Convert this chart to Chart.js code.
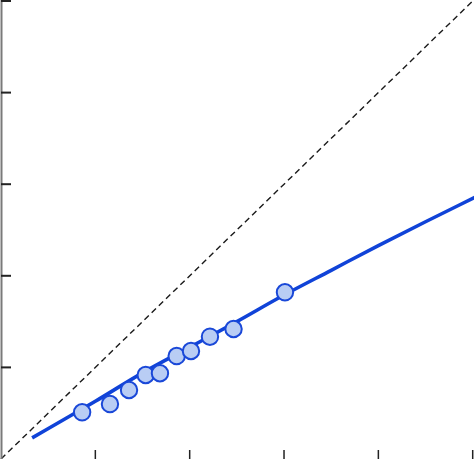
<!DOCTYPE html>
<html>
<head>
<meta charset="utf-8">
<script src="https://cdn.jsdelivr.net/npm/chart.js@4/dist/chart.umd.min.js"></script>
<style>
  html, body { margin: 0; padding: 0; background: #fff; }
  #wrap { width: 474px; height: 459px; }
</style>
</head>
<body>
<div id="wrap"><canvas id="fitChart"></canvas></div>
<script>
// measured points
const obsX = [0.86, 1.155, 1.357, 1.534, 1.685, 1.862, 2.014, 2.215, 2.465, 3.01];
const obsY = [0.51, 0.60, 0.753, 0.917, 0.936, 1.124, 1.179, 1.335, 1.419, 1.82];

// fitted curve
const fitX = [0.33, 0.75, 1.0, 1.5, 2.0, 2.5, 3.0, 3.5, 4.0, 4.5, 5.03];
const fitY = [0.23, 0.48, 0.63, 0.94, 1.22, 1.50, 1.79, 2.06, 2.33, 2.59, 2.86];

// 1:1 reference line
const refX = [0, 5.03];
const refY = [0, 5.03];

// tick positions (no labels in the figure)
const xTicks = [1, 2, 3, 4, 5];
const yTicks = [1, 2, 3, 4, 5];

const toPts = (xs, ys) => xs.map((x, i) => ({ x: x, y: ys[i] }));

// draws the axis line and short inward ticks using the chart scales
const inwardAxes = {
  id: 'inwardAxes',
  afterDraw(chart) {
    const c = chart.ctx;
    const xs = chart.scales.x, ys = chart.scales.y;
    const x0 = xs.getPixelForValue(0);
    const y0 = ys.getPixelForValue(0);
    c.save();
    c.strokeStyle = '#7a7a7a';
    c.lineWidth = 2;
    c.beginPath();
    c.moveTo(x0 + 0.5, 0);
    c.lineTo(x0 + 0.5, chart.height);
    c.stroke();
    c.strokeStyle = '#222';
    c.lineWidth = 2;
    yTicks.forEach(v => {
      const p = ys.getPixelForValue(v);
      c.beginPath();
      c.moveTo(x0, p);
      c.lineTo(x0 + 10, p);
      c.stroke();
    });
    c.lineWidth = 1.5;
    xTicks.forEach(v => {
      const p = xs.getPixelForValue(v);
      c.beginPath();
      c.moveTo(p, y0);
      c.lineTo(p, y0 - 9);
      c.stroke();
    });
    c.restore();
  }
};

const ctx = document.getElementById('fitChart').getContext('2d');
const fitChart = new Chart(ctx, {
  type: 'scatter',
  data: {
    datasets: [
      {
        data: toPts(refX, refY),
        showLine: true,
        borderColor: '#1a1a1a',
        borderWidth: 1.4,
        borderDash: [6, 4],
        pointRadius: 0,
        order: 3
      },
      {
        data: toPts(fitX, fitY),
        showLine: true,
        borderColor: '#1043d8',
        borderWidth: 3.6,
        tension: 0.4,
        cubicInterpolationMode: 'monotone',
        pointRadius: 0,
        order: 2
      },
      {
        data: toPts(obsX, obsY),
        backgroundColor: '#b9cdf4',
        borderColor: '#1a48d8',
        borderWidth: 2,
        pointRadius: 8.2,
        order: 1
      }
    ]
  },
  options: {
    responsive: true,
    maintainAspectRatio: false,
    animation: false,
    clip: false,
    layout: { autoPadding: false, padding: { left: 1, right: 1.3, top: 1, bottom: 0 } },
    plugins: {
      legend: { display: false },
      tooltip: { enabled: false }
    },
    scales: {
      x: { type: 'linear', min: 0, max: 5, display: false },
      y: { type: 'linear', min: 0, max: 5, display: false }
    }
  },
  plugins: [inwardAxes]
});
</script>
</body>
</html>
